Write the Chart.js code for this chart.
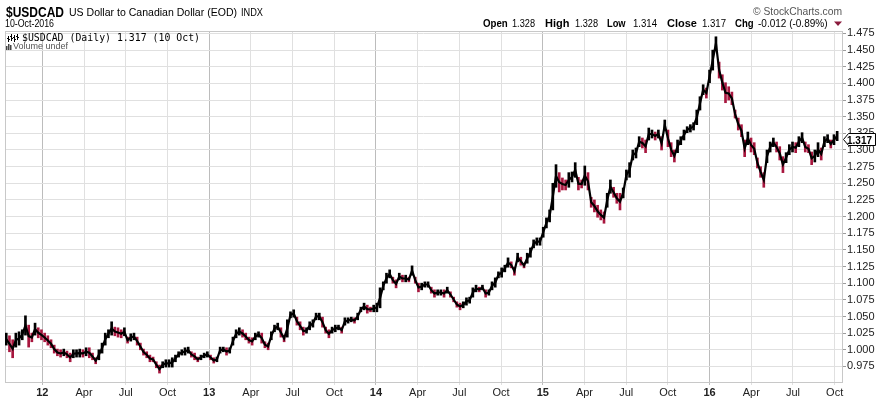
<!DOCTYPE html>
<html lang="en">
<head>
<meta charset="UTF-8">
<title>$USDCAD US Dollar to Canadian Dollar</title>
<script src="https://cdn.jsdelivr.net/npm/chart.js@4.4.0/dist/chart.umd.min.js"></script>
<style>
  html, body { margin: 0; padding: 0; background: #fff; }
  #wrap { width: 876px; height: 398px; }
</style>
</head>
<body>
<div id="wrap"><canvas id="usdcad" width="876" height="398"></canvas></div>
<script>
// weekly high / low, first week ends 14-Oct-2011
const firstWeek = new Date(2011, 9, 14);
const weekHigh = [
  1.025, 1.021, 1.015, 1.025, 1.027, 1.030, 1.051, 1.037, 1.025, 1.040,
  1.033, 1.030, 1.025, 1.021, 1.015, 1.007, 1.001, 1.000, 1.001, 0.998,
  0.995, 1.000, 1.000, 1.001, 1.000, 1.003, 1.003, 0.995, 0.988, 1.000,
  1.010, 1.025, 1.030, 1.042, 1.034, 1.033, 1.030, 1.033, 1.019, 1.024,
  1.025, 1.019, 1.010, 1.001, 0.997, 0.992, 0.989, 0.982, 0.977, 0.982,
  0.985, 0.985, 0.988, 0.992, 0.997, 1.000, 1.003, 1.004, 0.997, 0.995,
  0.989, 0.992, 0.995, 0.997, 0.992, 0.988, 0.989, 1.004, 1.004, 1.003,
  1.003, 1.019, 1.030, 1.033, 1.030, 1.025, 1.019, 1.018, 1.025, 1.027,
  1.025, 1.012, 1.010, 1.027, 1.037, 1.040, 1.033, 1.022, 1.045, 1.057,
  1.060, 1.049, 1.042, 1.034, 1.033, 1.042, 1.045, 1.055, 1.055, 1.049,
  1.034, 1.030, 1.034, 1.037, 1.037, 1.034, 1.048, 1.048, 1.049, 1.048,
  1.055, 1.064, 1.070, 1.067, 1.064, 1.067, 1.070, 1.093, 1.102, 1.115,
  1.120, 1.109, 1.105, 1.115, 1.112, 1.112, 1.109, 1.126, 1.109, 1.100,
  1.100, 1.102, 1.102, 1.094, 1.090, 1.090, 1.090, 1.090, 1.094, 1.087,
  1.079, 1.072, 1.070, 1.072, 1.078, 1.079, 1.093, 1.097, 1.094, 1.097,
  1.090, 1.090, 1.102, 1.108, 1.117, 1.123, 1.127, 1.138, 1.132, 1.124,
  1.145, 1.139, 1.130, 1.145, 1.153, 1.165, 1.168, 1.168, 1.184, 1.198,
  1.210, 1.250, 1.278, 1.266, 1.258, 1.255, 1.266, 1.267, 1.281, 1.259,
  1.255, 1.276, 1.266, 1.229, 1.225, 1.217, 1.210, 1.207, 1.235, 1.255,
  1.244, 1.235, 1.235, 1.243, 1.270, 1.281, 1.300, 1.303, 1.320, 1.318,
  1.315, 1.333, 1.330, 1.327, 1.330, 1.320, 1.345, 1.330, 1.311, 1.300,
  1.315, 1.320, 1.330, 1.335, 1.338, 1.341, 1.360, 1.380, 1.398, 1.393,
  1.420, 1.450, 1.470, 1.432, 1.413, 1.401, 1.395, 1.387, 1.360, 1.348,
  1.338, 1.315, 1.327, 1.318, 1.311, 1.288, 1.275, 1.266, 1.300, 1.312,
  1.318, 1.312, 1.305, 1.290, 1.296, 1.308, 1.312, 1.311, 1.320, 1.326,
  1.312, 1.308, 1.297, 1.300, 1.311, 1.303, 1.320, 1.323, 1.315, 1.323,
  1.328
];
const weekLow = [
  1.007, 0.997, 0.988, 1.004, 1.007, 1.015, 1.022, 1.004, 1.012, 1.022,
  1.018, 1.015, 1.012, 1.007, 1.003, 0.995, 0.991, 0.989, 0.991, 0.988,
  0.982, 0.988, 0.989, 0.989, 0.989, 0.991, 0.988, 0.985, 0.979, 0.985,
  0.995, 1.007, 1.018, 1.022, 1.021, 1.019, 1.018, 1.021, 1.010, 1.013,
  1.015, 1.007, 1.000, 0.992, 0.988, 0.982, 0.982, 0.973, 0.965, 0.973,
  0.974, 0.974, 0.974, 0.982, 0.989, 0.992, 0.992, 0.995, 0.989, 0.985,
  0.982, 0.985, 0.988, 0.989, 0.985, 0.980, 0.982, 0.995, 0.997, 0.992,
  0.995, 1.007, 1.018, 1.022, 1.019, 1.015, 1.010, 1.007, 1.015, 1.019,
  1.010, 1.003, 1.000, 1.015, 1.027, 1.030, 1.019, 1.012, 1.019, 1.048,
  1.049, 1.037, 1.030, 1.022, 1.025, 1.030, 1.034, 1.045, 1.045, 1.034,
  1.025, 1.018, 1.025, 1.027, 1.030, 1.025, 1.037, 1.040, 1.042, 1.040,
  1.045, 1.057, 1.060, 1.055, 1.057, 1.057, 1.057, 1.063, 1.090, 1.100,
  1.108, 1.100, 1.093, 1.105, 1.102, 1.102, 1.102, 1.112, 1.100, 1.087,
  1.090, 1.094, 1.094, 1.085, 1.079, 1.082, 1.082, 1.079, 1.085, 1.079,
  1.072, 1.064, 1.060, 1.063, 1.067, 1.070, 1.079, 1.087, 1.087, 1.090,
  1.079, 1.082, 1.090, 1.094, 1.108, 1.109, 1.117, 1.124, 1.123, 1.112,
  1.132, 1.127, 1.123, 1.130, 1.139, 1.153, 1.157, 1.157, 1.169, 1.183,
  1.192, 1.210, 1.244, 1.237, 1.240, 1.240, 1.244, 1.252, 1.259, 1.240,
  1.243, 1.247, 1.240, 1.214, 1.207, 1.199, 1.195, 1.190, 1.214, 1.235,
  1.229, 1.220, 1.210, 1.228, 1.255, 1.259, 1.285, 1.288, 1.305, 1.303,
  1.296, 1.315, 1.318, 1.315, 1.318, 1.300, 1.330, 1.305, 1.290, 1.282,
  1.296, 1.308, 1.315, 1.326, 1.327, 1.330, 1.338, 1.360, 1.383, 1.378,
  1.401, 1.420, 1.450, 1.408, 1.390, 1.371, 1.375, 1.368, 1.348, 1.330,
  1.320, 1.290, 1.308, 1.297, 1.293, 1.273, 1.259, 1.244, 1.281, 1.297,
  1.305, 1.297, 1.285, 1.266, 1.281, 1.293, 1.297, 1.296, 1.305, 1.311,
  1.297, 1.296, 1.278, 1.282, 1.290, 1.285, 1.305, 1.311, 1.303, 1.308,
  1.314
];
const yTicks = [
  0.975, 1.000, 1.025, 1.050, 1.075, 1.100, 1.125, 1.150, 1.175, 1.200, 1.225,
  1.250, 1.275, 1.300, 1.325, 1.350, 1.375, 1.400, 1.425, 1.450, 1.475
];
const xTickLabels = [
  '12', 'Apr', 'Jul', 'Oct', '13', 'Apr', 'Jul', 'Oct', '14', 'Apr', 'Jul', 'Oct',
  '15', 'Apr', 'Jul', 'Oct', '16', 'Apr', 'Jul', 'Oct'
];
const quoteLabels = ['Open', 'High', 'Low', 'Close', 'Chg'];
const quoteValues = ['1.328', '1.328', '1.314', '1.317', '-0.012 (-0.89%)'];
const lastClose = 1.317;

const FONT = 'Arial, "Liberation Sans", sans-serif';

function decYear(d) {
  const y = d.getFullYear();
  const s = new Date(y, 0, 1), e = new Date(y + 1, 0, 1);
  return y + (d - s) / (e - s);
}
function isYear(v) {
  return Math.abs(v - Math.round(v)) < 1e-9;
}

const weekX = weekHigh.map((h, i) => decYear(new Date(firstWeek.getTime() + i * 7 * 864e5)));
const ranges = weekHigh.map((h, i) => ({ x: weekX[i], y: [weekLow[i], h] }));
const mids = weekHigh.map((h, i) => (h + weekLow[i]) / 2);
const midLine = mids.map((m, i) => ({ x: weekX[i], y: m }));
const barColors = mids.map((m, i) => (i > 0 && m < mids[i - 1]) ? '#a8163e' : '#000000');

// text squeezed to a given width, like the narrow stockcharts type
function fitText(ctx, text, x, y, font, color, width) {
  ctx.font = font;
  const w = ctx.measureText(text).width;
  const s = width ? Math.min(1, width / w) : 1;
  ctx.save();
  ctx.translate(x, y);
  ctx.scale(s, 1);
  ctx.fillStyle = color;
  ctx.textBaseline = 'alphabetic';
  ctx.textAlign = 'left';
  ctx.fillText(text, 0, 0);
  ctx.restore();
  return w * s;
}

const frame = {
  id: 'frame',
  beforeDatasetsDraw(chart) {
    const { ctx, chartArea: a } = chart;
    ctx.save();
    ctx.strokeStyle = '#c8c8c8';
    ctx.lineWidth = 1;
    ctx.strokeRect(a.left + 0.5, a.top + 0.5, a.right - a.left, a.bottom - a.top);
    ctx.restore();
  },
  afterDraw(chart) {
    const { ctx, chartArea: a } = chart;
    const yScale = chart.scales.y;

    // header
    fitText(ctx, '$USDCAD', 6, 17, 'bold 15px ' + FONT, '#000', 58);
    fitText(ctx, 'US Dollar to Canadian Dollar (EOD)', 69, 16, '11px ' + FONT, '#000', 168);
    fitText(ctx, 'INDX', 241, 16, '10px ' + FONT, '#000', 22);
    fitText(ctx, '10-Oct-2016', 5, 27, '10px ' + FONT, '#000', 49);
    fitText(ctx, '\u00a9 StockCharts.com', 753, 15, '11px ' + FONT, '#555', 89);

    const labelX = [483, 545, 607, 667, 735];
    const valueX = [512, 575, 633, 702, 758];
    const valueW = [23, 23, 24, 24, 74];
    quoteLabels.forEach((l, i) => {
      fitText(ctx, l, labelX[i], 27, 'bold 11px ' + FONT, '#000', l.length * 6.2);
      fitText(ctx, quoteValues[i], valueX[i], 27, '10px ' + FONT, '#000', valueW[i]);
    });
    ctx.fillStyle = '#8a1a3c';
    ctx.beginPath();
    ctx.moveTo(834, 21.5); ctx.lineTo(842, 21.5); ctx.lineTo(838, 26); ctx.closePath();
    ctx.fill();

    // legend inside the plot
    ctx.save();
    ctx.strokeStyle = '#000';
    ctx.lineWidth = 1;
    [[8, 36, 42], [11, 34, 41], [14, 35, 42], [17, 34, 40]].forEach(([x, t, b]) => {
      ctx.beginPath();
      ctx.moveTo(x + 0.5, t); ctx.lineTo(x + 0.5, b);
      ctx.moveTo(x - 1, t + 2.5); ctx.lineTo(x + 0.5, t + 2.5);
      ctx.moveTo(x + 0.5, b - 2.5); ctx.lineTo(x + 2, b - 2.5);
      ctx.stroke();
    });
    ctx.fillStyle = '#444';
    [[6, 46, 4], [8, 44, 6], [10, 45, 5]].forEach(([x, t, h]) => ctx.fillRect(x, t, 1.5, h));
    ctx.restore();
    fitText(ctx, '$USDCAD (Daily) ' + lastClose.toFixed(3) + ' (10 Oct)', 22, 41,
      '10px "DejaVu Sans Mono", monospace', '#000', 178);
    fitText(ctx, 'Volume undef', 13, 49, '9px ' + FONT, '#555', 69);

    // last price tag
    const py = Math.round(yScale.getPixelForValue(lastClose)) + 0.5;
    ctx.save();
    ctx.beginPath();
    ctx.moveTo(a.right + 1.5, py);
    ctx.lineTo(a.right + 6.5, py - 6);
    ctx.lineTo(875.5, py - 6);
    ctx.lineTo(875.5, py + 6);
    ctx.lineTo(a.right + 6.5, py + 6);
    ctx.closePath();
    ctx.fillStyle = '#fff';
    ctx.fill();
    ctx.strokeStyle = '#000';
    ctx.lineWidth = 1;
    ctx.stroke();
    ctx.restore();
    fitText(ctx, lastClose.toFixed(3), a.right + 5, py + 4, 'bold 11px ' + FONT, '#000', 25);
  }
};

new Chart(document.getElementById('usdcad'), {
  type: 'bar',
  data: {
    datasets: [{
      type: 'line',
      data: midLine,
      borderColor: '#000',
      borderWidth: 2.2,
      pointRadius: 0,
      tension: 0,
      order: 0
    }, {
      data: ranges,
      backgroundColor: barColors,
      borderWidth: 0,
      barThickness: 2,
      order: 1
    }]
  },
  options: {
    responsive: false,
    animation: false,
    devicePixelRatio: 1,
    layout: { padding: { left: 5, top: 31, right: 0, bottom: 0 } },
    plugins: { legend: { display: false }, tooltip: { enabled: false } },
    scales: {
      x: {
        type: 'linear',
        min: 2011.776,
        max: 2016.794,
        offset: false,
        afterBuildTicks: ax => { ax.ticks = xTickLabels.map((l, i) => ({ value: 2012 + i * 0.25 })); },
        afterFit: ax => { ax.height = 16; },
        grid: {
          offset: false,
          color: ctx => (ctx.tick && isYear(ctx.tick.value)) ? '#bcbcbc' : '#e0e0e0',
          tickLength: 3
        },
        border: { color: '#9c9c9c' },
        ticks: {
          autoSkip: false,
          maxRotation: 0,
          padding: 1,
          color: '#222',
          callback: (v, i) => xTickLabels[i],
          font: ctx => ({ family: FONT, size: 11, weight: (ctx.tick && isYear(ctx.tick.value)) ? 'bold' : 'normal' })
        }
      },
      y: {
        position: 'right',
        min: 0.9516,
        max: 1.4787,
        afterBuildTicks: ax => { ax.ticks = yTicks.map(v => ({ value: v })); },
        afterFit: ax => { ax.width = 34; },
        grid: { color: '#e0e0e0', tickLength: 4, tickColor: '#9c9c9c' },
        border: { color: '#9c9c9c' },
        ticks: {
          autoSkip: false,
          padding: 1,
          color: '#222',
          font: { family: FONT, size: 11 },
          callback: v => v.toFixed(3)
        }
      }
    }
  },
  plugins: [frame]
});
</script>
</body>
</html>
